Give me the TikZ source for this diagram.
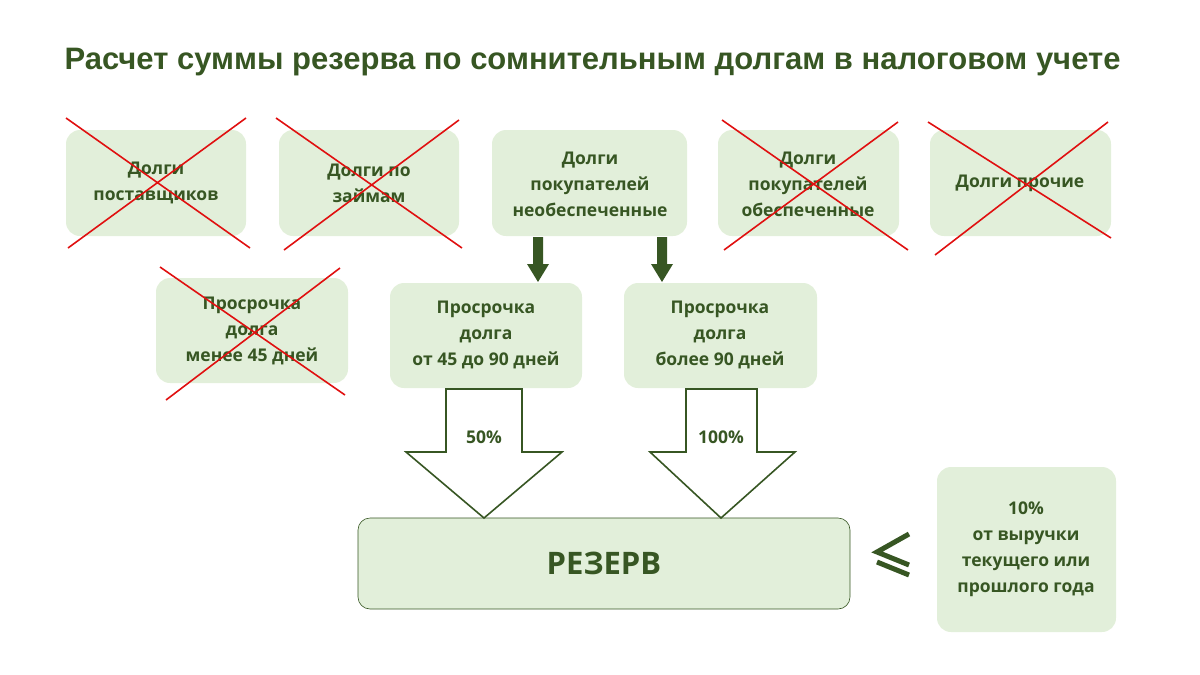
\documentclass[tikz,border=0pt]{standalone}
\usepackage{fontspec}
\setmainfont{Open Sans}
\newfontfamily\titlefont{Liberation Sans}
\definecolor{boxg}{HTML}{E2EFDA}
\definecolor{dg}{HTML}{375623}
\definecolor{xr}{HTML}{E01010}
\begin{document}
\begin{tikzpicture}[x=1pt,y=-1pt,
  bx/.style={fill=boxg,rounded corners=14pt,draw=none},
  tx/.style={text=dg,font=\fontsize{17.5}{26}\selectfont\bfseries,align=center},
  cross/.style={draw=xr,line width=1.6pt},
  hollow/.style={draw=dg,line width=1.6pt,fill=white}]
\useasboundingbox (0,0) rectangle (1200,675);
\node[text=dg,font=\titlefont\fontsize{31}{35}\selectfont\bfseries,anchor=west] (title) at (61,62) {Расчет суммы резерва по сомнительным долгам в налоговом учете};
\fill[bx] (66,130) rectangle (246,236); \node[tx] (b1) at (156,183) {Долги\\поставщиков};
\fill[bx] (279,130) rectangle (459,236); \node[tx] (b2) at (369,183) {Долги по\\займам};
\fill[bx] (492,130) rectangle (687,236); \node[tx] (b3) at (590,184) {Долги\\покупателей\\необеспеченные};
\fill[bx] (718,130) rectangle (899,236); \node[tx] (b4) at (808,184) {Долги\\покупателей\\обеспеченные};
\fill[bx] (930,130) rectangle (1111,236); \node[tx] (b5) at (1020,183) {Долги прочие};
\fill[bx] (156,278) rectangle (348,383); \node[tx] (b6) at (252,331) {Просрочка\\долга\\менее 45 дней};
\fill[bx] (390,283) rectangle (582,388); \node[tx] (b7) at (486,335) {Просрочка\\долга\\от 45 до 90 дней};
\fill[bx] (624,283) rectangle (817,388); \node[tx] (b8) at (720,335) {Просрочка\\долга\\более 90 дней};
\filldraw[fill=boxg,draw=dg,line width=0.6pt,rounded corners=12pt] (358,518) rectangle (850,609);
\node[text=dg,font=\fontsize{31}{36}\selectfont\bfseries] (rez) at (604,563) {РЕЗЕРВ};
\fill[bx] (937,467) rectangle (1116,632); \node[tx] (b10) at (1026,549) {10\%\\от выручки\\текущего или\\прошлого года};
\coordinate (le) at (893,553);
\draw[dg,line width=5pt] (909,534)--(877,552)--(909,565) (877,562)--(909,575);
% crosses
\draw[cross] (66,118)--(250,248) (68,248)--(246,118);
\draw[cross] (276,118)--(462,248) (284,250)--(459,120);
\draw[cross] (722,120)--(908,250) (724,250)--(898,122);
\draw[cross] (928,122)--(1111,238) (935,255)--(1108,122);
\draw[cross] (160,267)--(345,395) (166,400)--(340,268);
% small arrows
\fill[dg] (533,237)--(543,237)--(543,264)--(549,264)--(538,282)--(527,264)--(533,264)--cycle;
\fill[dg] (657,237)--(667,237)--(667,264)--(673,264)--(662,282)--(651,264)--(657,264)--cycle;
% hollow arrows
\draw[hollow] (446,389)--(522,389)--(522,452)--(562,452)--(484,518)--(406,452)--(446,452)--cycle;
\draw[hollow] (686,389)--(757,389)--(757,452)--(795,452)--(721,518)--(650,452)--(686,452)--cycle;
\node[tx] (p50) at (484,437) {50\%};
\node[tx] (p100) at (721,437) {100\%};
\end{tikzpicture}
\end{document}
